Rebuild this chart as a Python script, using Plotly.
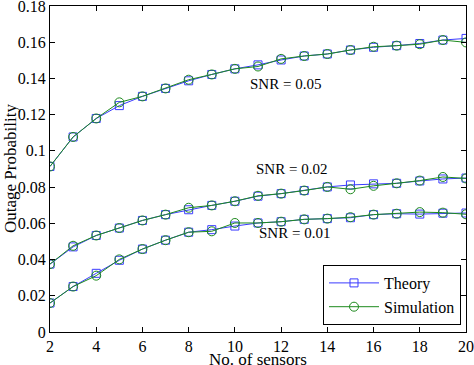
import plotly.graph_objects as go

sensors = list(range(2, 21))

theory_005 = [0.0914, 0.1077, 0.1179, 0.1250, 0.1301, 0.1345, 0.1387, 0.1422, 0.1453, 0.1475,
              0.1502, 0.1524, 0.1535, 0.1557, 0.1572, 0.1581, 0.1593, 0.1612, 0.1621]
sim_005 = [0.0914, 0.1077, 0.1179, 0.1268, 0.1301, 0.1345, 0.1393, 0.1422, 0.1453, 0.1466,
           0.1508, 0.1524, 0.1535, 0.1557, 0.1575, 0.1581, 0.1589, 0.1612, 0.1599]

theory_002 = [0.0375, 0.0470, 0.0533, 0.0574, 0.0616, 0.0648, 0.0675, 0.0699, 0.0722, 0.0750,
              0.0764, 0.0781, 0.0801, 0.0812, 0.0818, 0.0821, 0.0834, 0.0845, 0.0850]
sim_002 = [0.0375, 0.0476, 0.0533, 0.0574, 0.0616, 0.0648, 0.0686, 0.0699, 0.0722, 0.0752,
           0.0764, 0.0781, 0.0801, 0.0788, 0.0807, 0.0821, 0.0836, 0.0856, 0.0848]

theory_001 = [0.0160, 0.0251, 0.0324, 0.0396, 0.0458, 0.0507, 0.0551, 0.0565, 0.0585, 0.0602,
              0.0609, 0.0622, 0.0626, 0.0631, 0.0648, 0.0653, 0.0651, 0.0656, 0.0657]
sim_001 = [0.0160, 0.0251, 0.0311, 0.0401, 0.0458, 0.0507, 0.0551, 0.0556, 0.0602, 0.0602,
           0.0609, 0.0622, 0.0626, 0.0634, 0.0648, 0.0653, 0.0662, 0.0659, 0.0650]

snr_labels = ["SNR = 0.05", "SNR = 0.02", "SNR = 0.01"]
label_x = [12.2, 12.45, 12.6]
label_y = [0.137, 0.0901, 0.0545]

y_ticks = [0, 0.02, 0.04, 0.06, 0.08, 0.1, 0.12, 0.14, 0.16, 0.18]
y_tick_text = ["0", "0.02", "0.04", "0.06", "0.08", "0.1", "0.12", "0.14", "0.16", "0.18"]
x_ticks = list(range(2, 21, 2))

BLUE = "#3b3bff"
GREEN = "#1e8a1e"
SERIF = "Liberation Serif"

W, H = 474, 365
ML, MR, MT, MB = 50, 8, 6, 33
PW = W - ML - MR
PH = H - MT - MB

fig = go.Figure()
groups = [(theory_005, sim_005), (theory_002, sim_002), (theory_001, sim_001)]
for i, (th, sm) in enumerate(groups):
    fig.add_trace(go.Scatter(
        x=sensors, y=th, mode="lines+markers", name="Theory",
        showlegend=(i == 0),
        line=dict(color=BLUE, width=1),
        marker=dict(symbol="square-open", size=8, color=BLUE, line=dict(width=1)),
    ))
for i, (th, sm) in enumerate(groups):
    fig.add_trace(go.Scatter(
        x=sensors, y=sm, mode="lines+markers", name="Simulation",
        showlegend=(i == 0),
        line=dict(color=GREEN, width=1),
        marker=dict(symbol="circle-open", size=9, color=GREEN, line=dict(width=1)),
    ))

for t, xx, yy in zip(snr_labels, label_x, label_y):
    fig.add_annotation(x=xx, y=yy, text=t, showarrow=False,
                       font=dict(family=SERIF, size=15, color="black"))

# axis titles as annotations for precise placement
fig.add_annotation(xref="paper", yref="paper", x=-(ML - 10) / PW, y=0.5,
                   text="Outage Probability", textangle=-90, showarrow=False,
                   xanchor="center", yanchor="middle",
                   font=dict(family=SERIF, size=17, color="black"))
fig.add_annotation(xref="paper", yref="paper", x=0.5, y=-(359 - (MT + PH)) / PH,
                   text="No. of sensors", showarrow=False,
                   xanchor="center", yanchor="middle",
                   font=dict(family=SERIF, size=17, color="black"))

axis_common = dict(
    showline=True, linecolor="black", linewidth=1, mirror="ticks",
    ticks="inside", ticklen=5, tickcolor="black", showgrid=False, zeroline=False,
    automargin=False, ticklabeloverflow="allow",
    tickfont=dict(family=SERIF, size=16, color="black"),
)

fig.update_layout(
    width=W, height=H,
    margin=dict(l=ML, r=MR, t=MT, b=MB),
    paper_bgcolor="white", plot_bgcolor="white",
    font=dict(family=SERIF, size=15, color="black"),
    xaxis=dict(range=[2, 20], tickvals=x_ticks, **axis_common),
    yaxis=dict(range=[0, 0.18], tickvals=y_ticks, ticktext=y_tick_text, **axis_common),
    legend=dict(x=(461 - ML) / PW, y=(MT + PH - 325) / PH, xanchor="right", yanchor="bottom",
                bordercolor="black", borderwidth=1, bgcolor="white",
                font=dict(family=SERIF, size=16),
                tracegroupgap=0, itemwidth=50),
)

fig.write_html("out.html", config={"displayModeBar": False},
               post_script="document.body.style.margin='0';")
